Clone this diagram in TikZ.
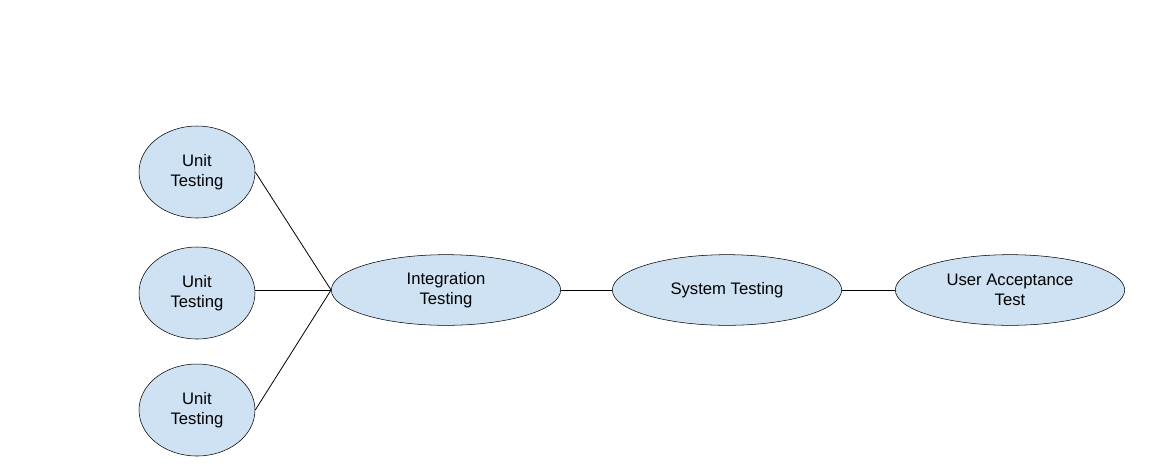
\documentclass[tikz,border=0pt]{standalone}
\usepackage{fontspec}
\setmainfont{Liberation Sans}
\usetikzlibrary{shapes.geometric}
\definecolor{fillblue}{HTML}{CFE2F3}
\begin{document}
\begin{tikzpicture}[x=0.75pt,y=-0.75pt,
  ell/.style={ellipse,draw=black,fill=fillblue,inner sep=0pt,align=center,font=\fontsize{12.5}{15}\selectfont},
  unit/.style={ell,minimum width=87pt,minimum height=69pt},
  wide/.style={ell,minimum width=172pt,minimum height=53pt},
  conn/.style={draw=black,line width=0.6pt}]
\useasboundingbox (0,0) rectangle (1169,469);
\node[unit] (u1) at (197,172) {Unit\\Testing};
\node[unit] (u2) at (197,293) {Unit\\Testing};
\node[unit] (u3) at (197,410) {Unit\\Testing};
\node[wide] (it) at (446,290) {Integration\\Testing};
\node[wide] (st) at (727,290) {System Testing};
\node[wide] (ua) at (1010,290) {User Acceptance\\Test};
\draw[conn] (u1.east) -- (it.west);
\draw[conn] (u2.east |- it.west) -- (it.west);
\draw[conn] (u3.east) -- (it.west);
\draw[conn] (it.east) -- (st.west);
\draw[conn] (st.east) -- (ua.west);
\end{tikzpicture}
\end{document}
